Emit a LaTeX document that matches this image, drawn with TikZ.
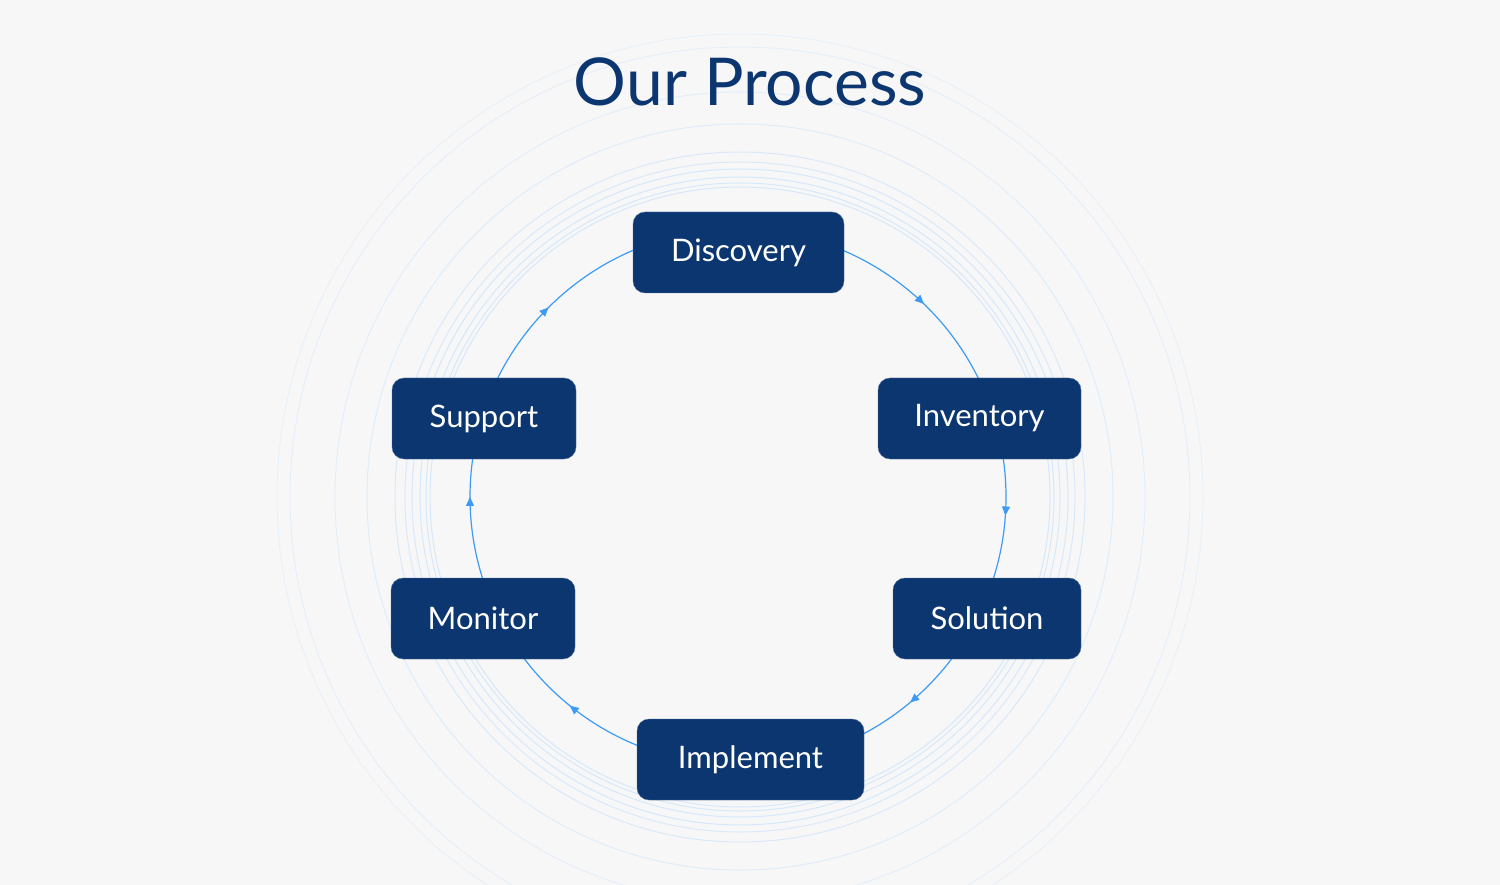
\documentclass[tikz,border=0pt]{standalone}
\usepackage{fontspec}
\setmainfont{Lato}
\usetikzlibrary{decorations.markings,arrows.meta}
\definecolor{bg}{HTML}{F7F7F7}
\definecolor{navy}{HTML}{0B3670}
\definecolor{ring}{HTML}{3D9BF5}
\definecolor{faint}{HTML}{D6E8FB}
\tikzset{
  stepbox/.style={fill=navy,draw=navy!70,rounded corners=12pt,text=white,font=\fontsize{31}{36}\selectfont,minimum height=81pt,inner sep=0pt},
  bgring/.style={draw=faint,line width=1pt}
}
\begin{document}
\begin{tikzpicture}[x=1pt,y=-1pt]
\fill[bg] (0,0) rectangle (1500,885);
\useasboundingbox (0,0) rectangle (1500,885);
\coordinate (c) at (740,497);
\foreach \r/\o in {463/0.4,450/0.5,405/0.6,373/0.7,345/0.9,335/0.9,328/1,320/1,314/1,310/1}
  \draw[bgring,opacity=\o] (c) circle[radius=\r];
\node[text=navy,font=\fontsize{66}{70}\selectfont] (title) at (750,82) {Our Process};
\draw[ring,line width=1.2pt,
  postaction={decorate},
  decoration={markings,
    mark=at position 0.122 with {\arrow{Triangle[length=9pt,width=8pt]}},
    mark=at position 0.261 with {\arrow{Triangle[length=9pt,width=8pt]}},
    mark=at position 0.389 with {\arrow{Triangle[length=9pt,width=8pt]}},
    mark=at position 0.608 with {\arrow{Triangle[length=9pt,width=8pt]}},
    mark=at position 0.75 with {\arrow{Triangle[length=9pt,width=8pt]}},
    mark=at position 0.875 with {\arrow{Triangle[length=9pt,width=8pt]}}}]
  (738,229) arc[start angle=-90,end angle=270,radius=268];
\node[stepbox,minimum width=211pt] (d) at (738.5,252.5) {Discovery};
\node[stepbox,minimum width=203pt] (i) at (979.5,418.5) {Inventory};
\node[stepbox,minimum width=188pt] (s) at (987,618.5) {Solution};
\node[stepbox,minimum width=227pt] (im) at (750.5,759.5) {Implement};
\node[stepbox,minimum width=184pt] (m) at (483,618.5) {Monitor};
\node[stepbox,minimum width=184pt] (su) at (484,418.5) {Support};
\end{tikzpicture}
\end{document}
